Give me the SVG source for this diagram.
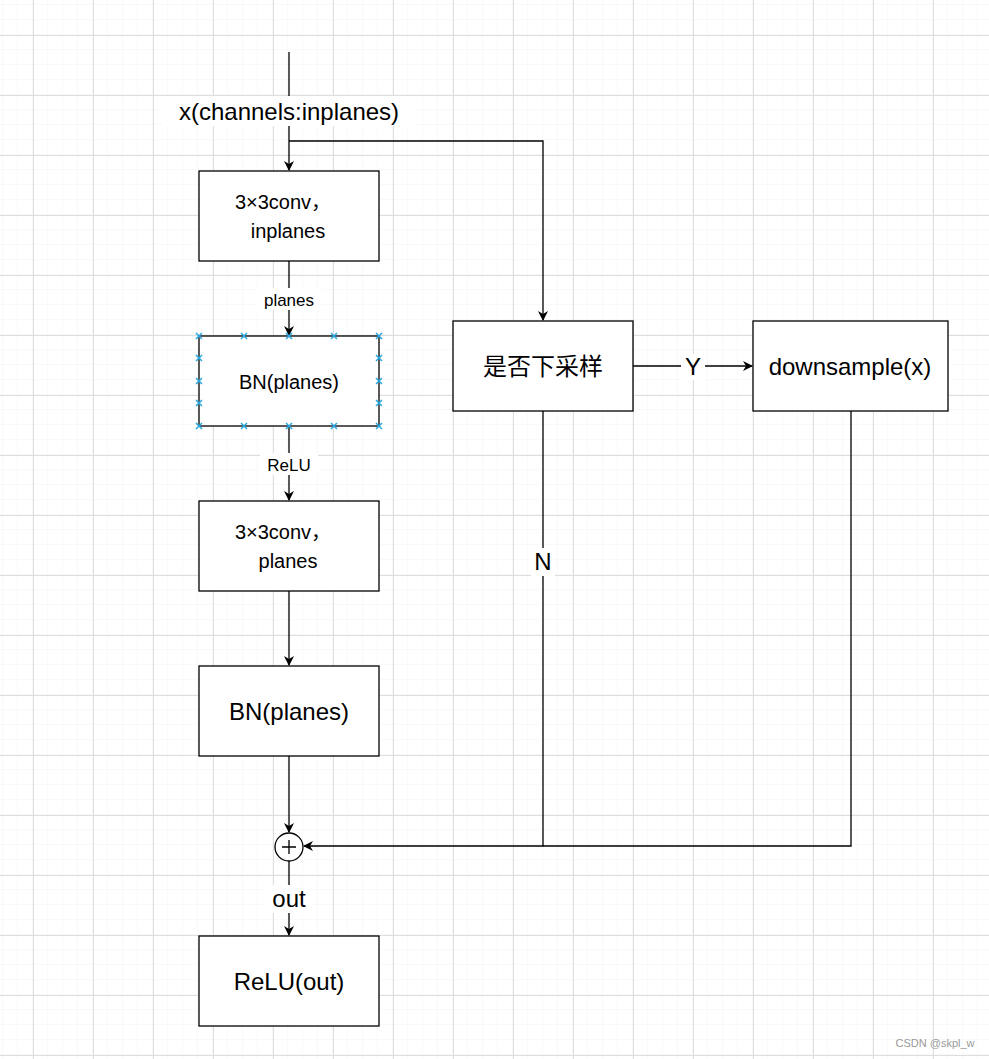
<svg xmlns="http://www.w3.org/2000/svg" width="989" height="1059" viewBox="0 0 989 1059">
<defs>
<pattern id="minor" width="15" height="15" patternUnits="userSpaceOnUse" x="3" y="5"><path d="M15 0V15M0 15H15" fill="none" stroke="#f2f2f2" stroke-width="1"/></pattern>
<pattern id="major" width="60" height="60" patternUnits="userSpaceOnUse" x="33" y="35"><path d="M0.5 0V60M0 0.5H60" fill="none" stroke="#dedede" stroke-width="1"/></pattern>
<marker id="arr" viewBox="0 0 10 10" refX="9" refY="5" markerWidth="10" markerHeight="10" markerUnits="userSpaceOnUse" orient="auto"><path d="M0 0L10 5L0 10L3 5Z" fill="#000"/></marker>
<g id="xm"><path d="M-3 -3L3 3M-3 3L3 -3" stroke="#29a8e0" stroke-width="1.5"/></g>
</defs>
<style>
.b{fill:#fff;stroke:#000;stroke-width:1.3}
.l{fill:none;stroke:#000;stroke-width:1.3}
text{font-family:"Liberation Sans",Arial,"Noto Sans CJK SC",sans-serif;fill:#000;text-anchor:middle}
.lb{fill:#fff}
</style>
<rect width="989" height="1059" fill="#fff"/>
<rect width="989" height="1059" fill="url(#minor)"/>
<rect width="989" height="1059" fill="url(#major)"/>
<g id="connectors">
<path class="l" d="M289 52V170" marker-end="url(#arr)"/>
<path class="l" d="M289 141H543V320" marker-end="url(#arr)"/>
<path class="l" d="M289 261V335" marker-end="url(#arr)"/>
<path class="l" d="M289 426V500" marker-end="url(#arr)"/>
<path class="l" d="M289 591V665" marker-end="url(#arr)"/>
<path class="l" d="M289 756V832" marker-end="url(#arr)"/>
<path class="l" d="M289 861V935" marker-end="url(#arr)"/>
<path class="l" d="M633 366H752" marker-end="url(#arr)"/>
<path class="l" d="M543 411V846H304" marker-end="url(#arr)"/>
<path class="l" d="M851 411V846H543"/>
<rect class="lb" x="162" y="96" width="254" height="30"/>
<text x="289" y="120" font-size="24">x(channels:inplanes)</text>
<rect class="lb" x="256" y="288" width="66" height="22"/>
<text x="289" y="306" font-size="17">planes</text>
<rect class="lb" x="260" y="453" width="58" height="22"/>
<text x="289" y="471" font-size="17">ReLU</text>
<rect class="lb" x="681" y="354" width="24" height="26"/>
<text x="693" y="375" font-size="24">Y</text>
<rect class="lb" x="531" y="548" width="24" height="28"/>
<text x="543" y="570" font-size="24">N</text>
<rect class="lb" x="266" y="885" width="46" height="28"/>
<text x="289" y="907" font-size="24">out</text>
</g>
<g id="n1"><rect class="b" x="199" y="171" width="180" height="90"/><text x="283" y="209" font-size="20">3×3conv，</text><text x="288" y="238" font-size="20">inplanes</text></g>
<g id="n2"><rect class="b" x="199" y="336" width="180" height="90"/><text x="289" y="389" font-size="20">BN(planes)</text>
<use href="#xm" x="199" y="336"/><use href="#xm" x="244" y="336"/><use href="#xm" x="289" y="336"/><use href="#xm" x="334" y="336"/><use href="#xm" x="379" y="336"/>
<use href="#xm" x="199" y="426"/><use href="#xm" x="244" y="426"/><use href="#xm" x="289" y="426"/><use href="#xm" x="334" y="426"/><use href="#xm" x="379" y="426"/>
<use href="#xm" x="199" y="358"/><use href="#xm" x="199" y="381"/><use href="#xm" x="199" y="403"/>
<use href="#xm" x="379" y="358"/><use href="#xm" x="379" y="381"/><use href="#xm" x="379" y="403"/></g>
<g id="n3"><rect class="b" x="199" y="501" width="180" height="90"/><text x="283" y="539" font-size="20">3×3conv，</text><text x="288" y="568" font-size="20">planes</text></g>
<g id="n4"><rect class="b" x="199" y="666" width="180" height="90"/><text x="289" y="720" font-size="24">BN(planes)</text></g>
<g id="plus"><circle class="b" cx="289" cy="847" r="14"/><path class="l" d="M282 847H296M289 840V854"/></g>
<g id="n5"><rect class="b" x="199" y="936" width="180" height="90"/><text x="289" y="990" font-size="24">ReLU(out)</text></g>
<g id="n6"><rect class="b" x="453" y="321" width="180" height="90"/><text x="543" y="375" font-size="24">是否下采样</text></g>
<g id="n7"><rect class="b" x="753" y="321" width="195" height="90"/><text x="850" y="375" font-size="24">downsample(x)</text></g>
<text x="935" y="1047" font-size="11" style="fill:#999">CSDN @skpl_w</text>
</svg>
